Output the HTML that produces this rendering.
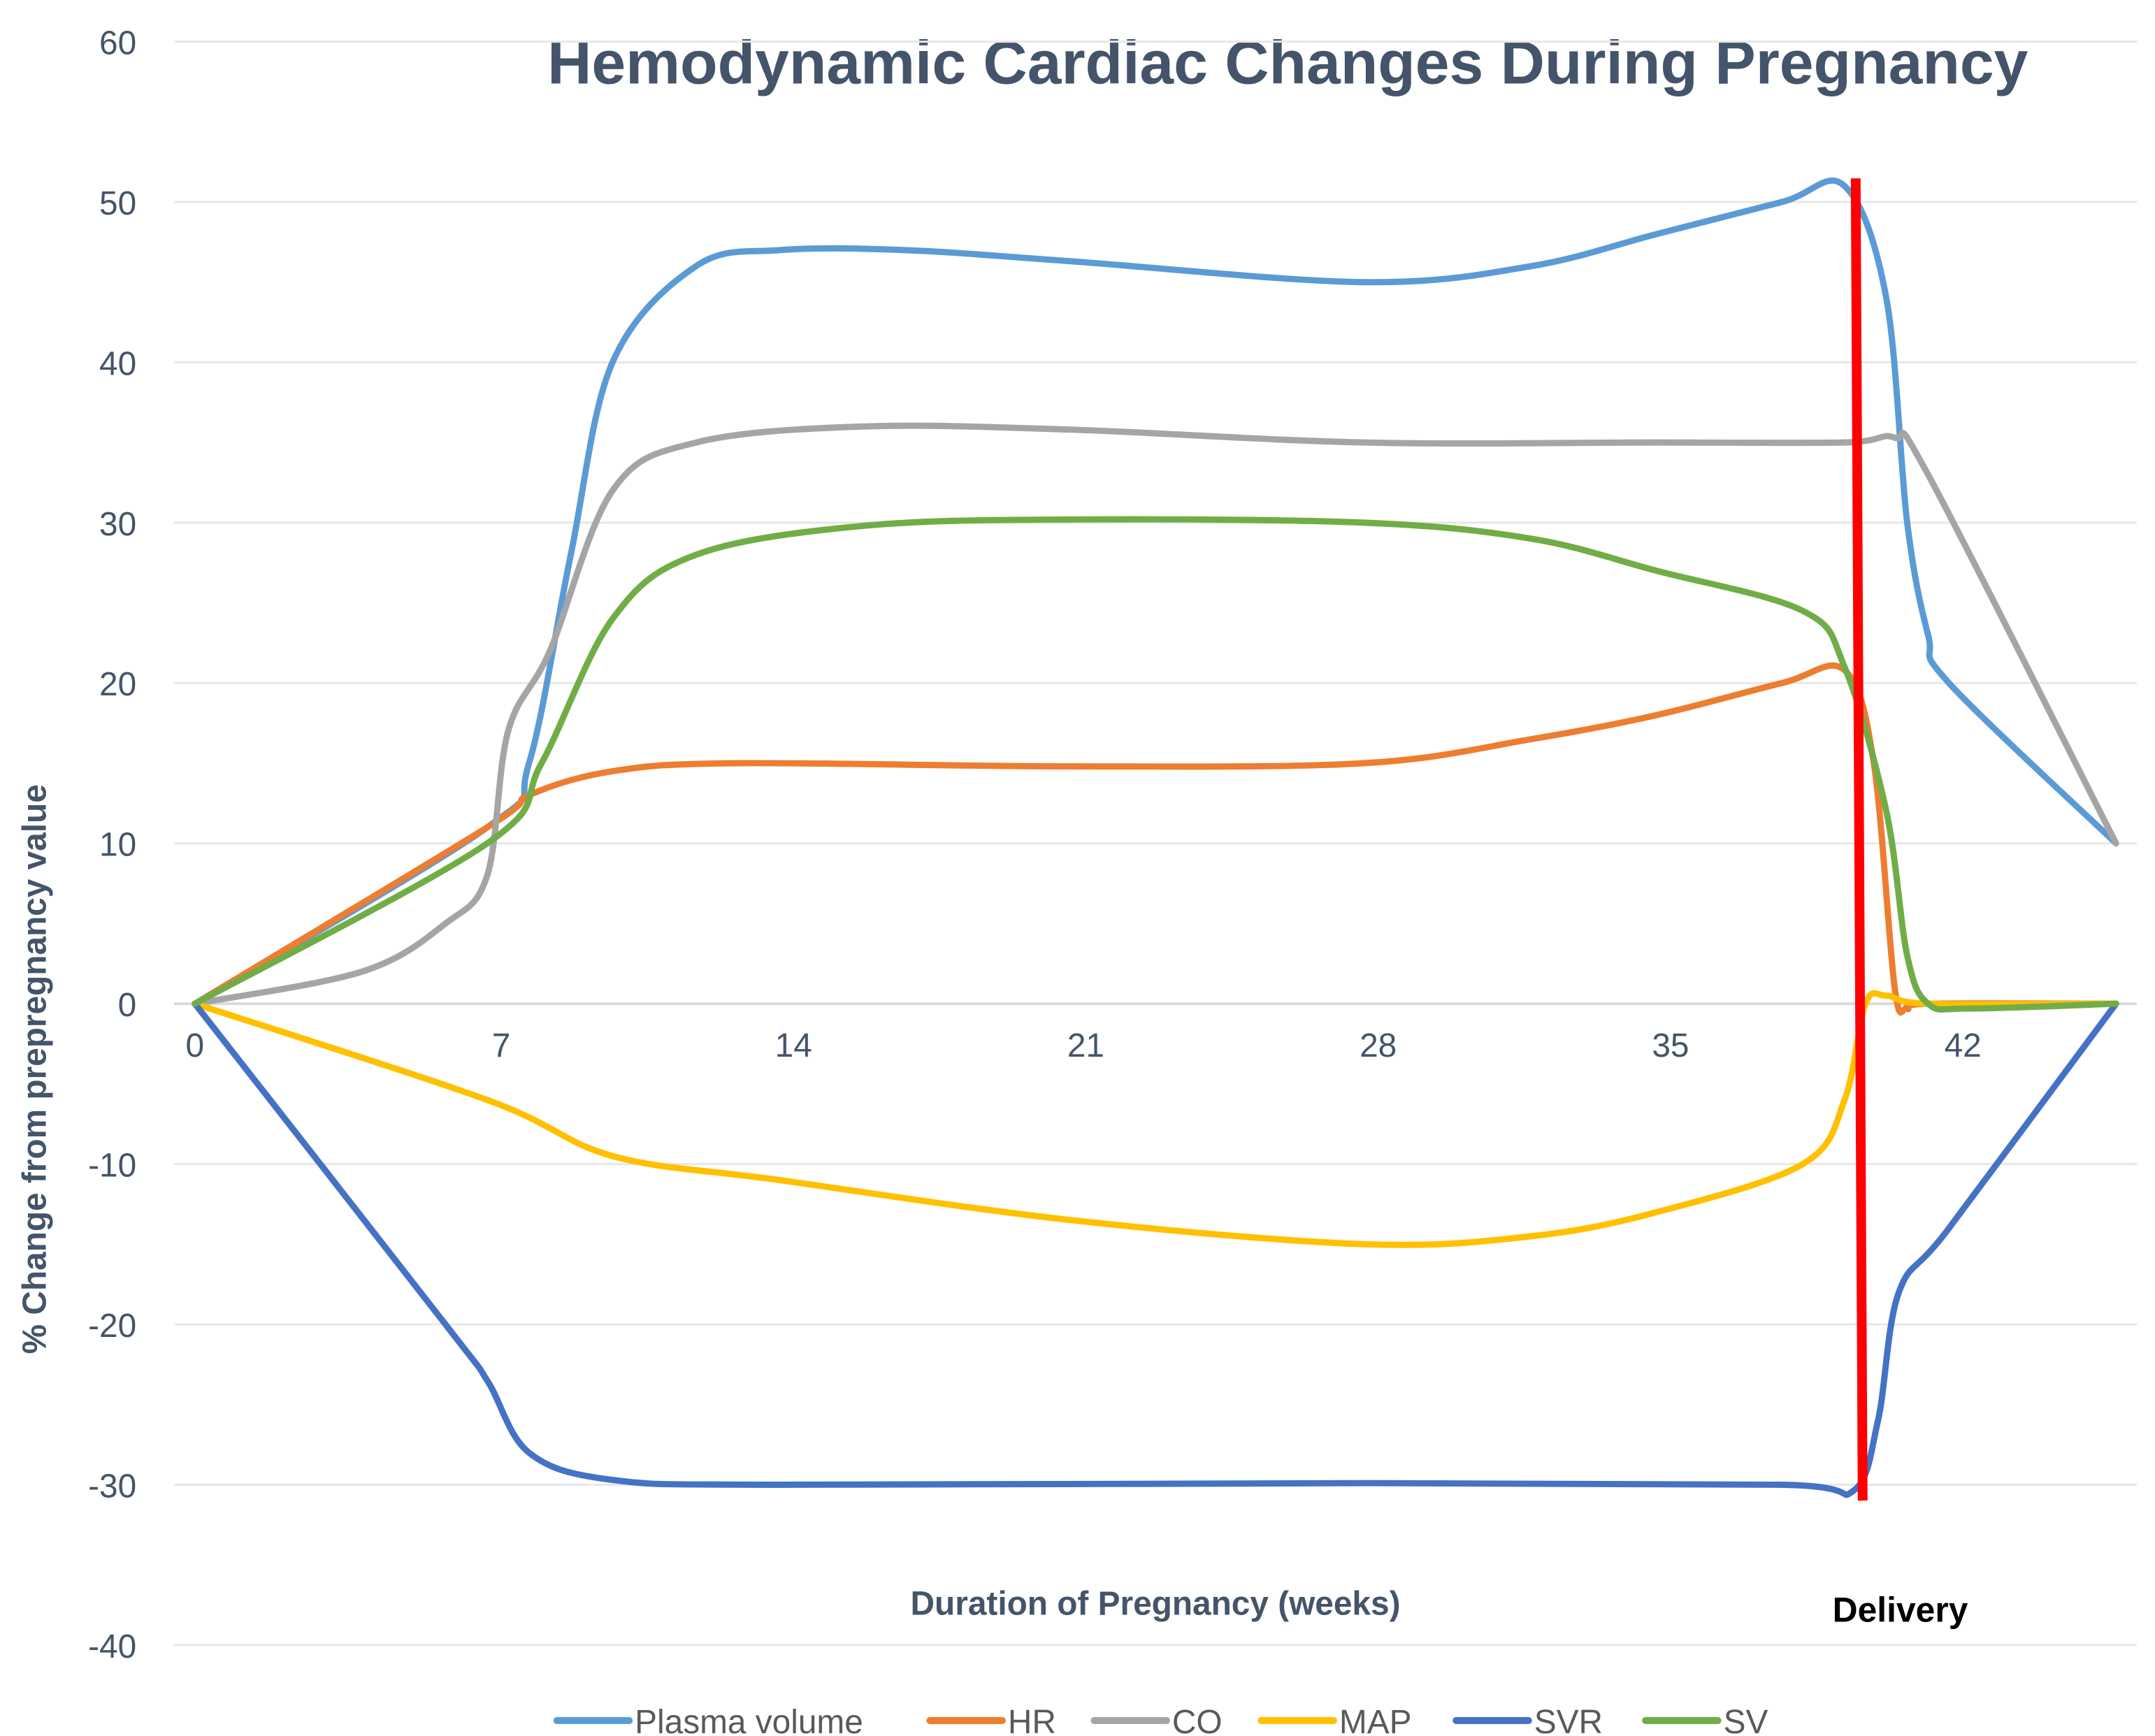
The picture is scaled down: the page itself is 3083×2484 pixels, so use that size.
<!DOCTYPE html>
<html><head><meta charset="utf-8"><style>
html,body{margin:0;padding:0;background:#fff;}
svg{display:block;}
text{font-family:"Liberation Sans",sans-serif;}
</style></head><body>
<svg id="chart" width="3083" height="2484" viewBox="0 0 1548 1247" xmlns="http://www.w3.org/2000/svg">
<rect width="1548" height="1247" fill="#fff"/>
<text x="925" y="60" text-anchor="middle" font-size="44" font-weight="bold" fill="#44546A">Hemodynamic Cardiac Changes During Pregnancy</text>
<g id="grid"></g><g id="yticks"></g><g id="xticks"></g><g id="series"></g>
<line x1="1333" y1="128" x2="1338" y2="1078" stroke="#FF0000" stroke-width="7"/>
<text x="1365" y="1165" text-anchor="middle" font-size="25" font-weight="bold" fill="#000">Delivery</text>
<text x="830" y="1160" text-anchor="middle" font-size="24" font-weight="bold" fill="#44546A">Duration of Pregnancy (weeks)</text>
<text transform="translate(33,768) rotate(-90)" text-anchor="middle" font-size="24" font-weight="bold" fill="#44546A">% Change from prepregnancy value</text>
<g id="legend"></g>
</svg>
<script>
const yTicks=[60,50,40,30,20,10,0,-10,-20,-30,-40];
const xTicks=[0,7,14,21,28,35,42];
const seriesNames=["Plasma volume","HR","CO","MAP","SVR","SV"];
const seriesColors=["#5B9BD5","#ED7D31","#A5A5A5","#FFC000","#4472C4","#70AD47"];
const plasmaWeeks=[0,7,8,9,10,12,14,17,21,28,32,35,38,39.5,40.5,41,41.5,42,46];
const plasmaVals=[0,11,15,28,40,46,47,47,46.3,45,46,48,50,51,44,30,23,20,10];
const hrWeeks=[0,7,8,10,13,21,28,32,35,38,39.5,40.2,40.7,41,41.5,46];
const hrVals=[0,11,13,14.5,15,14.8,15,16.5,18,20,20.8,15,1,-0.3,0,0];
const coWeeks=[0,4,6,7,7.5,8.5,10,12,16,21,28,35,39.5,40.7,41.5,46];
const coVals=[0,2,5,8,17,22,32,35,36,35.8,35,35,35,35.3,33,10];
const mapWeeks=[0,7,10,14,21,28,32,35,38.5,39.5,40,40.5,41.5,46];
const mapVals=[0,-6,-9.5,-11,-13.5,-15,-14.5,-13,-10,-6,0,0.5,0,0];
const svrWeeks=[0,6,7,8,10,14,28,38,39.7,40.3,40.8,42,46];
const svrVals=[0,-20,-23.5,-28,-29.7,-30,-29.9,-30,-30.4,-26,-18,-14,0];
const svWeeks=[0,7,8.3,10,12,16,21,28,32,35,38.5,39.5,40.5,41,41.5,42.5,46];
const svVals=[0,10,15,24,28,29.8,30.2,30,29,27,24.5,21,12,3,0,-0.3,0];
const allW=[plasmaWeeks,hrWeeks,coWeeks,mapWeeks,svrWeeks,svWeeks];
const allV=[plasmaVals,hrVals,coVals,mapVals,svrVals,svVals];
const NS="http://www.w3.org/2000/svg";
const xs=w=>140+w*30;
const ys=v=>721-v*11.52;
function mk(tag,attrs,parent){const e=document.createElementNS(NS,tag);for(const k in attrs)e.setAttribute(k,attrs[k]);parent.appendChild(e);return e;}
const grid=document.getElementById('grid'),yt=document.getElementById('yticks'),xt=document.getElementById('xticks'),sg=document.getElementById('series'),lg=document.getElementById('legend');
yTicks.forEach(v=>{
 const l=mk('line',{x1:125,x2:1535,y1:ys(v),y2:ys(v),stroke:v===0?'#D9D9D9':'#E7E7E7','stroke-width':v===0?2:1.5},grid);
 
 
 const t=mk('text',{x:98,y:ys(v)+9,'text-anchor':'end','font-size':24,fill:'#44546A'},yt);t.textContent=v;
 
 
});
xTicks.forEach(w=>{
 const t=mk('text',{x:xs(w)+(w===0?0:10),y:759,'text-anchor':'middle','font-size':24,fill:'#44546A'},xt);t.textContent=w;
 
 
});
function pathFor(W,V){
 const p=W.map((w,i)=>[xs(w),ys(V[i])]);
 let d='M'+p[0][0]+','+p[0][1];
 for(let i=0;i<p.length-1;i++){
  const p0=p[i-1]||p[i],p1=p[i],p2=p[i+1],p3=p[i+2]||p[i+1];
  const c1=[p1[0]+(p2[0]-p0[0])/6,p1[1]+(p2[1]-p0[1])/6];
  const c2=[p2[0]-(p3[0]-p1[0])/6,p2[1]-(p3[1]-p1[1])/6];
  d+=` C${c1[0]},${c1[1]} ${c2[0]},${c2[1]} ${p2[0]},${p2[1]}`;
 }
 return d;
}
seriesNames.forEach((n,i)=>{
 const path=mk('path',{d:pathFor(allW[i],allV[i]),fill:'none',stroke:seriesColors[i],'stroke-width':4.5,'stroke-linecap':'round','stroke-linejoin':'round'},sg);
 
 
});
const legX=[400,668,786,906,1046,1182];
seriesNames.forEach((n,i)=>{
 const g=mk('g',{},lg);
 
 
 mk('line',{x1:legX[i],x2:legX[i]+52,y1:1236,y2:1236,stroke:seriesColors[i],'stroke-width':5,'stroke-linecap':'round'},g);
 const t=mk('text',{x:legX[i]+56,y:1245,'font-size':24,fill:'#595959'},g);t.textContent=n;
});
</script>
</body></html>
